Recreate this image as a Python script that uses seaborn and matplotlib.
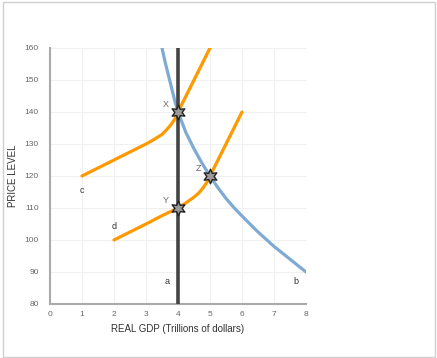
import numpy as np
import pandas as pd
import matplotlib
matplotlib.use("Agg")
import matplotlib.pyplot as plt
from matplotlib.patches import Rectangle
import seaborn as sns

# curve c (upper orange)
c_x = [1, 2, 3, 3.25, 3.5, 3.65, 3.8, 3.9, 4, 4.25, 4.5, 4.75, 5]
c_y = [120, 125, 130, 131.4, 133, 134.5, 136.3, 137.8, 140, 145, 150, 155, 160]

# curve d (lower orange)
d_x = [2, 2.5, 3, 3.5, 4, 4.25, 4.5, 4.65, 4.8, 4.9, 5, 5.25, 5.5, 5.75, 6]
d_y = [100, 102.5, 105, 107.6, 110, 111.6, 113.4, 114.7, 116.5, 118, 120, 125, 130, 135, 140]

# curve b (blue)
b_x = [3.5, 3.6, 3.75, 3.9, 4, 4.25, 4.5, 4.75, 5, 5.25, 5.5, 5.75, 6, 6.5, 7, 7.5, 8]
b_y = [160, 155.5, 149.5, 143.5, 140, 133.5, 128.5, 124, 120, 116.3, 113, 110.1, 107.5, 102.5, 98, 94, 90]

# vertical line a
a_x = [4, 4]
a_y = [80, 160]

# points X, Y, Z
pt_names = ["X", "Y", "Z"]
pt_x = [4, 4, 5]
pt_y = [140, 110, 120]

# curve labels
lab_names = ["a", "b", "c", "d"]
lab_x = [3.65, 7.67, 1.0, 2.0]
lab_y = [87.1, 87.1, 115.5, 104.1]

sns.set_style("white")
plt.rcParams["font.family"] = ["Liberation Sans", "DejaVu Sans"]

fig = plt.figure(figsize=(4.37, 3.58), dpi=100)
ax = fig.add_axes([50 / 437, 1 - 304 / 358, 256 / 437, 256 / 358])

# frame around whole picture
fig.patches.append(Rectangle((2.5 / 437, 1.5 / 358), 432.5 / 437, 355 / 358,
                             transform=fig.transFigure, fill=False,
                             edgecolor="#d0d0d0", linewidth=1))

orange = "#ff9900"
blue = "#7eaad3"

sns.lineplot(x=c_x, y=c_y, ax=ax, color=orange, linewidth=2.3, sort=False, estimator=None)
sns.lineplot(x=d_x, y=d_y, ax=ax, color=orange, linewidth=2.3, sort=False, estimator=None)
sns.lineplot(x=b_x, y=b_y, ax=ax, color=blue, linewidth=2.3, sort=False, estimator=None)
sns.lineplot(x=a_x, y=a_y, ax=ax, color="#444444", linewidth=2.6, sort=False,
             estimator=None, zorder=4)

sns.scatterplot(x=pt_x, y=pt_y, ax=ax, marker=(6, 1, 0), s=110,
                color="#999999", edgecolor="#222222", linewidth=1.0, zorder=5)

for n, x, y in zip(pt_names, pt_x, pt_y):
    ax.text(x - 0.37, y + 2.4, n, fontsize=6.5, color="#666666",
            ha="center", va="center")
for n, x, y in zip(lab_names, lab_x, lab_y):
    ax.text(x, y, n, fontsize=6.5, color="#333333", ha="center", va="center")

ax.set_xlim(0, 8)
ax.set_ylim(80, 160)
ax.set_xticks(range(0, 9))
ax.set_yticks(range(80, 161, 10))
ax.grid(True, color="#f0f0f0", linewidth=0.8)
ax.set_axisbelow(True)

for s in ["top", "right"]:
    ax.spines[s].set_visible(False)
for s in ["left", "bottom"]:
    ax.spines[s].set_color("#aaaaaa")
    ax.spines[s].set_linewidth(1.5)

ax.tick_params(axis="both", direction="inout", length=4, width=1,
               color="#aaaaaa", labelsize=6, labelcolor="#666666")
ax.tick_params(axis="y", pad=6)
ax.tick_params(axis="x", pad=3)

ax.set_xlabel("REAL GDP (Trillions of dollars)", fontsize=7, color="#333333",
              labelpad=4)
ax.set_ylabel("PRICE LEVEL", fontsize=7, color="#333333", labelpad=5)

fig.savefig("out.png", dpi=100)
